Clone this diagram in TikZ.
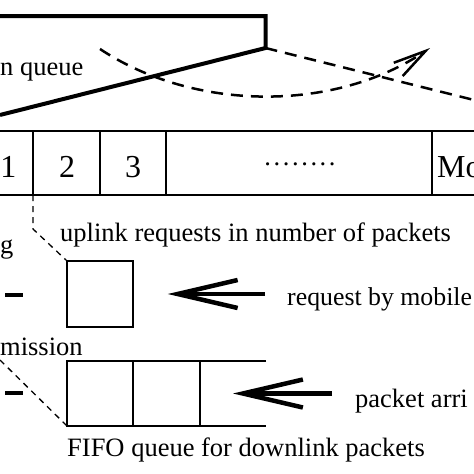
\documentclass[tikz,border=0pt]{standalone}
\usepackage{fontspec}
\setmainfont{Liberation Serif}
\usetikzlibrary{arrows.meta,calc}
\begin{document}
\begin{tikzpicture}[x=1pt,y=-1pt,
  lbl/.style={inner sep=0pt, font=\fontsize{26.5}{30}\selectfont, anchor=base west},
  cell/.style={inner sep=0pt, font=\fontsize{32}{36}\selectfont, anchor=base},
  heavy/.style={line width=4pt},
  boxline/.style={line width=1.5pt},
  bigdash/.style={line width=2.5pt, dash pattern=on 12pt off 8pt},
  smalldash/.style={line width=1.3pt, dash pattern=on 6pt off 5pt},
  fatarrow/.style={line width=4.5pt, -{Straight Barb[length=60pt,width=28pt]}},
]
\useasboundingbox (0,0) rectangle (474,474);

% top wedge
\draw[heavy, line join=miter] (0,16) -- (265.5,16) -- (265.5,48) coordinate (corner) -- (0,115);
\node[lbl] (inq) at (0,75) {n queue};

\coordinate (d1s) at (100,49);
\coordinate (d1e) at (430,48);
\coordinate (d2e) at (474,100);
\draw[bigdash, -{Straight Barb[length=33pt,width=16pt]}] (d1s) .. controls (195,112) and (335,112) .. (d1e);
\draw[bigdash] (corner) -- (d2e);

% row of mobiles
\draw[boxline] (0,131) -- (474,131) (0,195) -- (474,195);
\foreach \x in {33,100,166,432} \draw[boxline] (\x,131) -- (\x,195);
\coordinate (v1b) at (33,195);
\node[cell] (n1) at (8.5,177) {1};
\node[cell] (n2) at (67,177) {2};
\node[cell] (n3) at (133,177) {3};
\node[lbl, anchor=base] (ndots) at (300,165) {.\kern2.6pt.\kern2.6pt.\kern2.6pt.\kern2.6pt.\kern2.6pt.\kern2.6pt.\kern2.6pt.};
\node[cell, anchor=base west] (nmo) at (437,177) {Mo};

% uplink request box
\node[lbl] (upl) at (60,241) {uplink requests in number of packets};
\node[draw, boxline, minimum size=66pt, inner sep=0pt] (sq) at (100,294) {};
\draw[smalldash] (v1b) -- (33,229) -- (sq.north west);
\node[lbl, font=\fontsize{25.8}{30}\selectfont] (req) at (287,305) {request by mobile};
\draw[fatarrow, shorten <=22pt, shorten >=34pt] (req.west |- sq.east) -- (sq.east);

% left edge fragments
\node[lbl] (g) at (0,253) {g};
\node[lbl] (mis) at (0,355) {mission};
\draw[heavy] (5,295) -- (23,295);
\draw[heavy] (5,393) -- (23,393);

% FIFO queue
\draw[boxline] (266,361) -- (67,361) -- (67,426) coordinate (qsw) -- (266,426);
\draw[boxline] (133,361) -- (133,426) (200,361) -- (200,426);
\coordinate (qin) at (233,393.5);
\coordinate (dl) at (0,360);
\draw[smalldash] (dl) -- (qsw);
\node[lbl] (pkt) at (355,407) {packet arri};
\draw[fatarrow, shorten <=23pt] (pkt.west |- qin) -- (qin);
\node[lbl] (fifo) at (67,456) {FIFO queue for downlink packets};
\end{tikzpicture}
\end{document}
